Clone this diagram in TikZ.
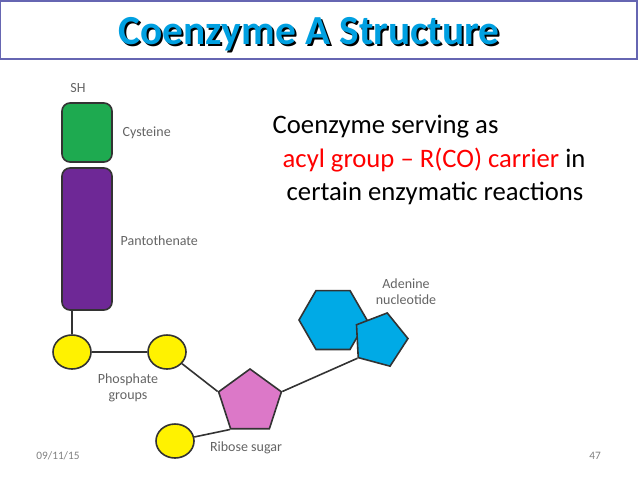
\documentclass[tikz,border=0pt]{standalone}
\usepackage{fontspec}
\setmainfont{Carlito}
\usetikzlibrary{shapes.geometric}
\definecolor{titleblue}{RGB}{0,160,225}
\definecolor{cysgreen}{RGB}{30,170,80}
\definecolor{pantpurple}{RGB}{110,40,150}
\definecolor{ribpink}{RGB}{220,120,200}
\definecolor{adeblue}{RGB}{0,170,230}
\definecolor{labgray}{RGB}{100,100,100}
\tikzset{
  part/.style={draw=black!80, line width=1.2pt, rounded corners=6pt},
  phos/.style={ellipse, draw=black!80, line width=1.2pt, fill=yellow, minimum width=38pt*0.75, minimum height=34pt*0.75, inner sep=0pt},
  lab/.style={text=labgray, font=\fontsize{10.5}{12}\selectfont, align=center},
  bond/.style={line width=1.2pt, black!80},
  body/.style={anchor=west, font=\fontsize{20}{24}\selectfont}
}
\begin{document}
\begin{tikzpicture}[x=0.75pt,y=-0.75pt]
\useasboundingbox (0,0) rectangle (638,479);
% title bar
\draw[draw=black!50!blue!60, line width=0.8pt] (0,1) rectangle (637,59);
\node (shadow) at (311,36) {\fontsize{31}{34}\bfseries\selectfont Coenzyme A Structure};
\node[text=titleblue] (title) at (309,34) {\fontsize{31}{34}\bfseries\selectfont Coenzyme A Structure};
% cysteine and pantothenate
\draw[part, fill=cysgreen] (62,103) rectangle (112,162);
\draw[part, fill=pantpurple] (62,168) rectangle (112,310);
\coordinate (pant) at (72,310);
\node[lab] (sh) at (78,88) {SH};
\node[lab, anchor=west] (cys) at (118,133) {Cysteine};
\node[lab, anchor=west] (pan) at (116,241) {Pantothenate};
% phosphates
\node[phos] (p1) at (72,352) {};
\node[phos] (p2) at (167,352) {};
\node[phos] (p3) at (175,441) {};
\node[lab] (plab) at (128,388) {Phosphate\\groups};
% ribose
\node[regular polygon, regular polygon sides=5, draw=black!80, line width=1.2pt, fill=ribpink, minimum size=66pt*0.75, inner sep=0pt] (rib) at (250,402) {};
\node[lab] (rlab) at (246,448) {Ribose sugar};
% adenine
\node[regular polygon, regular polygon sides=6, draw=black!80, line width=1.2pt, fill=adeblue, minimum size=68pt*0.75, inner sep=0pt] (hex) at (333,320) {};
\node[regular polygon, regular polygon sides=5, rotate=-15, draw=black!80, line width=1.2pt, fill=adeblue, minimum size=56pt*0.75, inner sep=0pt] (pen) at (380,340) {};
\node[lab] (alab) at (406,292) {Adenine\\nucleotide};
% bonds
\draw[bond] (pant) -- (p1);
\draw[bond] (p1) -- (p2);
\draw[bond] (p2) -- (rib.corner 2);
\draw[bond] (p3) -- (rib.corner 3);
\draw[bond] (rib.corner 5) -- (pen.corner 3);
% text
\node[body] (t1) at (268,127) {Coenzyme serving as};
\node[body] (t2) at (278,160) {\textcolor{red}{acyl group – R(CO) carrier} in};
\node[body] (t3) at (282,193) {certain enzymatic reactions};
\node[text=black!50, font=\fontsize{8.5}{10}\selectfont] (date) at (58,456) {09/11/15};
\node[text=black!50, font=\fontsize{8.5}{10}\selectfont] (pg) at (595,456) {47};
\end{tikzpicture}
\end{document}
